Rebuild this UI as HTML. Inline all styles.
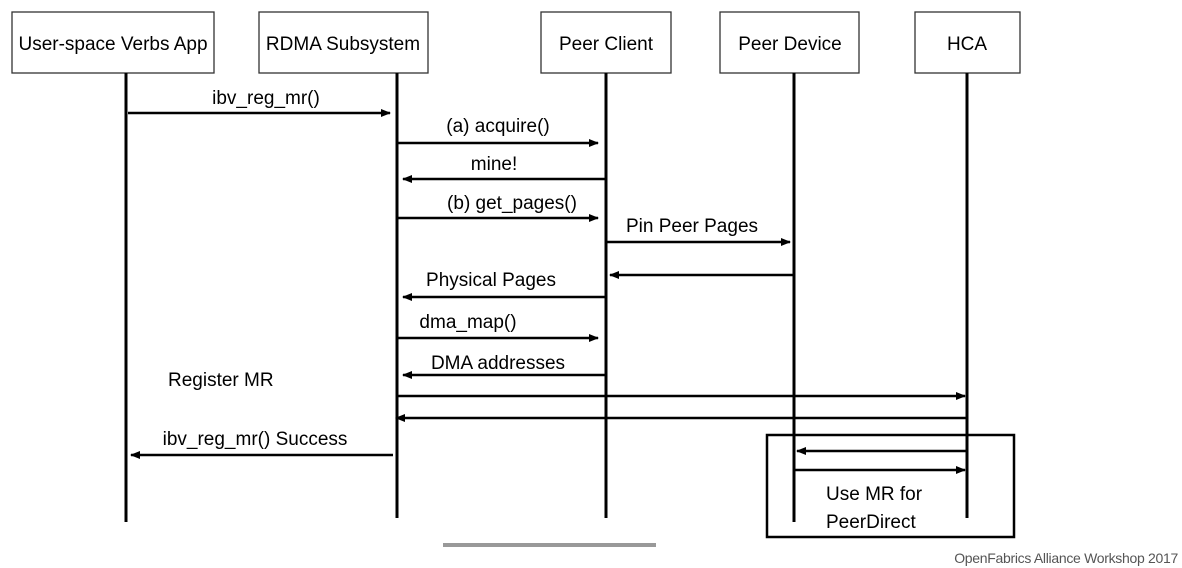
<!DOCTYPE html>
<html><head><meta charset="utf-8"><style>
html,body{margin:0;padding:0;background:#fff;}
svg{display:block;}
text{font-family:"Liberation Sans",sans-serif;font-size:19px;fill:#000;}
</style></head><body>
<svg width="1182" height="568" viewBox="0 0 1182 568" xmlns="http://www.w3.org/2000/svg">
<defs>
<marker id="a" markerWidth="10" markerHeight="8" refX="9" refY="4" orient="auto" markerUnits="userSpaceOnUse">
<path d="M0,0 L10,4 L0,8 z" fill="#000"/></marker>
</defs>
<g fill="#fff" stroke="#333" stroke-width="1.3">
<rect x="12" y="12" width="202" height="61"/>
<rect x="259" y="12" width="169" height="61"/>
<rect x="541" y="12" width="130" height="61"/>
<rect x="720" y="12" width="139" height="61"/>
<rect x="915" y="12" width="105" height="61"/>
</g>
<g text-anchor="middle">
<text x="113" y="50">User-space Verbs App</text>
<text x="343" y="50">RDMA Subsystem</text>
<text x="606" y="50">Peer Client</text>
<text x="790" y="50">Peer Device</text>
<text x="967" y="50">HCA</text>
</g>
<rect x="767" y="435" width="247" height="102" fill="none" stroke="#000" stroke-width="2.5"/>
<g stroke="#000" stroke-width="3">
<line x1="126" y1="73" x2="126" y2="522"/>
<line x1="397" y1="73" x2="397" y2="518"/>
<line x1="606" y1="73" x2="606" y2="518"/>
<line x1="794" y1="73" x2="794" y2="522"/>
<line x1="967" y1="73" x2="967" y2="518"/>
</g>
<g stroke="#000" stroke-width="2.5" marker-end="url(#a)">
<line x1="128" y1="113" x2="390" y2="113"/>
<line x1="398" y1="143" x2="598" y2="143"/>
<line x1="605" y1="179" x2="403" y2="179"/>
<line x1="398" y1="218" x2="598" y2="218"/>
<line x1="607" y1="242" x2="790" y2="242"/>
<line x1="793" y1="275" x2="610" y2="275"/>
<line x1="605" y1="297" x2="403" y2="297"/>
<line x1="398" y1="338" x2="598" y2="338"/>
<line x1="605" y1="375" x2="403" y2="375"/>
<line x1="398" y1="396" x2="965" y2="396"/>
<line x1="966" y1="418" x2="396" y2="418"/>
<line x1="393" y1="455" x2="131" y2="455"/>
<line x1="966" y1="451" x2="797" y2="451"/>
<line x1="795" y1="470" x2="965" y2="470"/>
</g>
<g text-anchor="middle">
<text x="266" y="104">ibv_reg_mr()</text>
<text x="498" y="132">(a) acquire()</text>
<text x="494" y="170">mine!</text>
<text x="512" y="209">(b) get_pages()</text>
<text x="692" y="232">Pin Peer Pages</text>
<text x="491" y="286">Physical Pages</text>
<text x="468" y="328">dma_map()</text>
<text x="498" y="369">DMA addresses</text>
<text x="255" y="445">ibv_reg_mr() Success</text>
</g>
<text x="168" y="386">Register MR</text>
<text x="826" y="500">Use MR for</text>
<text x="826" y="528">PeerDirect</text>
<rect x="443" y="543" width="213" height="4" fill="#999"/>
<text x="1178" y="563" text-anchor="end" style="font-size:14px;fill:#555;letter-spacing:-0.3px">OpenFabrics Alliance Workshop 2017</text>
</svg>
</body></html>
